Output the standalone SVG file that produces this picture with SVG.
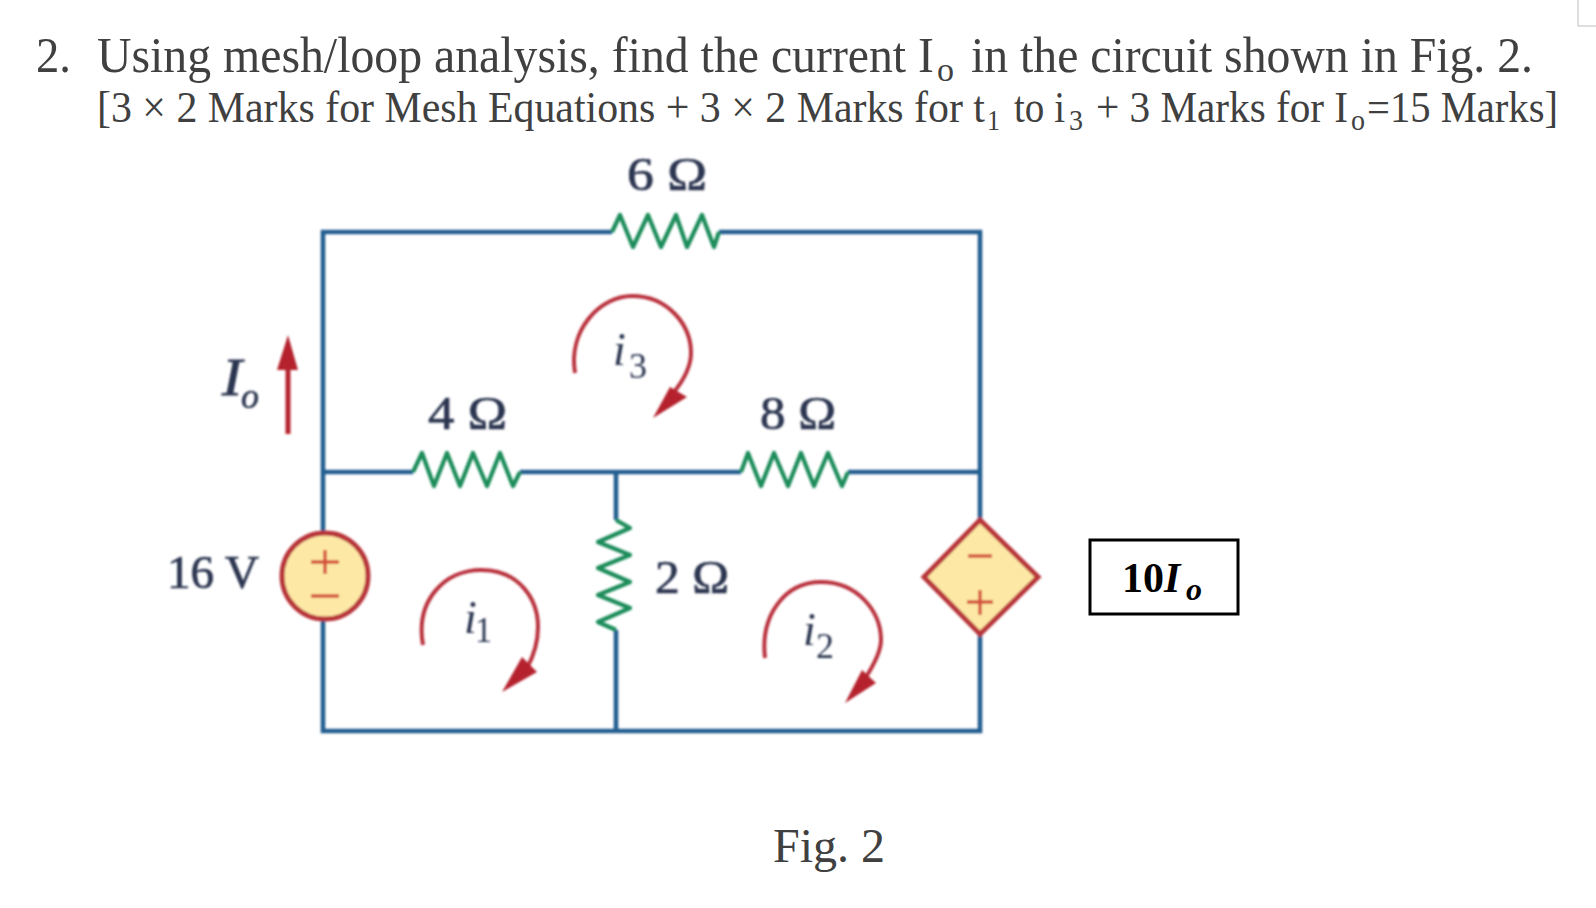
<svg xmlns="http://www.w3.org/2000/svg" width="1596" height="908" viewBox="0 0 1596 908">
<defs>
<filter id="soft" x="-5%" y="-5%" width="110%" height="110%"><feGaussianBlur stdDeviation="0.85"/></filter>
<style>
.q{font-family:"Liberation Serif",serif;fill:#404040}
.l1{font-size:50px}
.l2{font-size:44px}
.lab{font-family:"Liberation Serif",serif;fill:#2c3550;stroke:#2c3550;stroke-width:.7;font-size:46px}
.mi{font-family:"Liberation Serif",serif;fill:#2c3550;font-style:italic;font-size:46px}
.sub{font-family:"Liberation Serif",serif;fill:#2c3550;font-size:36px}
.wire{fill:none;stroke:#245f90;stroke-width:4.6}
.res{fill:none;stroke:#1a8c5a;stroke-width:4.2;stroke-linejoin:round}
.arc{fill:none;stroke:#b9323e;stroke-width:4}
.head{fill:#b5242f}
.src{fill:#fde9a5;stroke:#b8343a;stroke-width:5}
.sign{fill:none;stroke:#d4503a;stroke-width:3.4}
</style>
</defs>
<rect width="1596" height="908" fill="#fff"/>
<path d="M1578 0V26H1596" fill="none" stroke="#bdbdbd" stroke-width="1"/>
<g id="question">
<text class="q l1" x="36" y="72" textLength="35" lengthAdjust="spacingAndGlyphs">2.</text>
<text class="q l1" x="97" y="72" textLength="837" lengthAdjust="spacingAndGlyphs">Using mesh/loop analysis, find the current I</text>
<text class="q" x="937" y="81" font-size="34" textLength="17" lengthAdjust="spacingAndGlyphs">o</text>
<text class="q l1" x="971" y="72" textLength="562" lengthAdjust="spacingAndGlyphs">in the circuit shown in Fig. 2.</text>
<text class="q l2" x="97" y="122" textLength="888" lengthAdjust="spacingAndGlyphs">[3 × 2 Marks for Mesh Equations + 3 × 2 Marks for t</text>
<text class="q" x="987" y="130" font-size="30" textLength="13" lengthAdjust="spacingAndGlyphs">1</text>
<text class="q l2" x="1014" y="122" textLength="51" lengthAdjust="spacingAndGlyphs">to i</text>
<text class="q" x="1069" y="130" font-size="30" textLength="14" lengthAdjust="spacingAndGlyphs">3</text>
<text class="q l2" x="1096" y="122" textLength="252" lengthAdjust="spacingAndGlyphs">+ 3 Marks for I</text>
<text class="q" x="1351" y="130" font-size="30" textLength="14" lengthAdjust="spacingAndGlyphs">o</text>
<text class="q l2" x="1367" y="122" textLength="191" lengthAdjust="spacingAndGlyphs">=15 Marks]</text>
</g>
<g filter="url(#soft)">
<g id="connectors">
<path class="wire" d="M612 232H323V731H980V232H719"/>
<path class="wire" d="M323 472H413M520 472H741M848 472H980M616 472V520M616 630V731"/>
</g>
<g id="r6"><path class="res" d="M612 232L620 215L633 247L648 215L661 247L676 215L687 247L702 215L714 247L719 232"/><text class="lab" x="627" y="190" textLength="80" lengthAdjust="spacingAndGlyphs">6 Ω</text></g>
<g id="r4"><path class="res" d="M413 472L422 453L434 486L447 453L460 486L473 453L487 486L500 453L513 486L520 472"/><text class="lab" x="428" y="429" textLength="79" lengthAdjust="spacingAndGlyphs">4 Ω</text></g>
<g id="r8"><path class="res" d="M741 472L748 453L761 486L774 453L788 486L801 453L814 486L828 453L842 486L848 472"/><text class="lab" x="760" y="429" textLength="76" lengthAdjust="spacingAndGlyphs">8 Ω</text></g>
<g id="r2"><path class="res" d="M616 520L630 528L598 542L630 555L598 568L630 582L598 595L630 608L598 622L616 630"/><text class="lab" x="655" y="593" textLength="74" lengthAdjust="spacingAndGlyphs">2 Ω</text></g>
<g id="source"><circle class="src" cx="325" cy="576" r="43"/><path class="sign" d="M311 562H339M325 550V574M311 596H339"/><text class="lab" x="167" y="588" textLength="92" lengthAdjust="spacingAndGlyphs">16 V</text></g>
<g id="dependent"><path class="src" d="M980 520L1038 577L980 634L924 577Z"/><path class="sign" d="M968 556H992M967 602H993M980 590V615"/></g>
<g id="io"><path d="M288 434V365" fill="none" stroke="#b5242f" stroke-width="5"/><path class="head" d="M288 335L298 370H277Z"/><text class="mi" x="222" y="395" style="font-size:52px;stroke:#2c3550;stroke-width:.8" textLength="20" lengthAdjust="spacingAndGlyphs">I</text><text class="mi" x="241" y="408" style="font-size:36px;stroke:#2c3550;stroke-width:.6" textLength="18" lengthAdjust="spacingAndGlyphs">o</text></g>
<g id="mesh1"><path class="arc" d="M423 645C415 600 445 570 481 570C520 570 538 600 538 627C538 643 533 657 527 668"/><path class="head" d="M502 692L522 657L537 672Z"/><text class="mi" x="464" y="633">i</text><text class="sub" x="475" y="642" textLength="17" lengthAdjust="spacingAndGlyphs">1</text></g>
<g id="mesh3"><path class="arc" d="M575 373C568 330 600 296 632 296C668 296 691 325 691 353C691 368 682 382 674 392"/><path class="head" d="M653 418L670 387L687 397Z"/><text class="mi" x="613" y="365">i</text><text class="sub" x="629" y="378" textLength="18" lengthAdjust="spacingAndGlyphs">3</text></g>
<g id="mesh2"><path class="arc" d="M765 658C760 615 785 582 821 582C858 582 881 612 881 640C881 652 873 666 866 677"/><path class="head" d="M845 703L862 670L876 683Z"/><text class="mi" x="803" y="645">i</text><text class="sub" x="816" y="658" textLength="18" lengthAdjust="spacingAndGlyphs">2</text></g>
</g>
<g id="gain"><rect x="1090" y="540" width="148" height="74" fill="#fff" stroke="#000" stroke-width="3"/><text x="1122" y="592" font-family="'Liberation Serif',serif" font-weight="bold" font-size="42" fill="#000">10<tspan font-style="italic">I</tspan></text><text x="1186" y="600" font-family="'Liberation Serif',serif" font-weight="bold" font-style="italic" font-size="32" fill="#000">o</text></g>
<text class="q" x="773" y="862" font-size="48">Fig. 2</text>
</svg>
